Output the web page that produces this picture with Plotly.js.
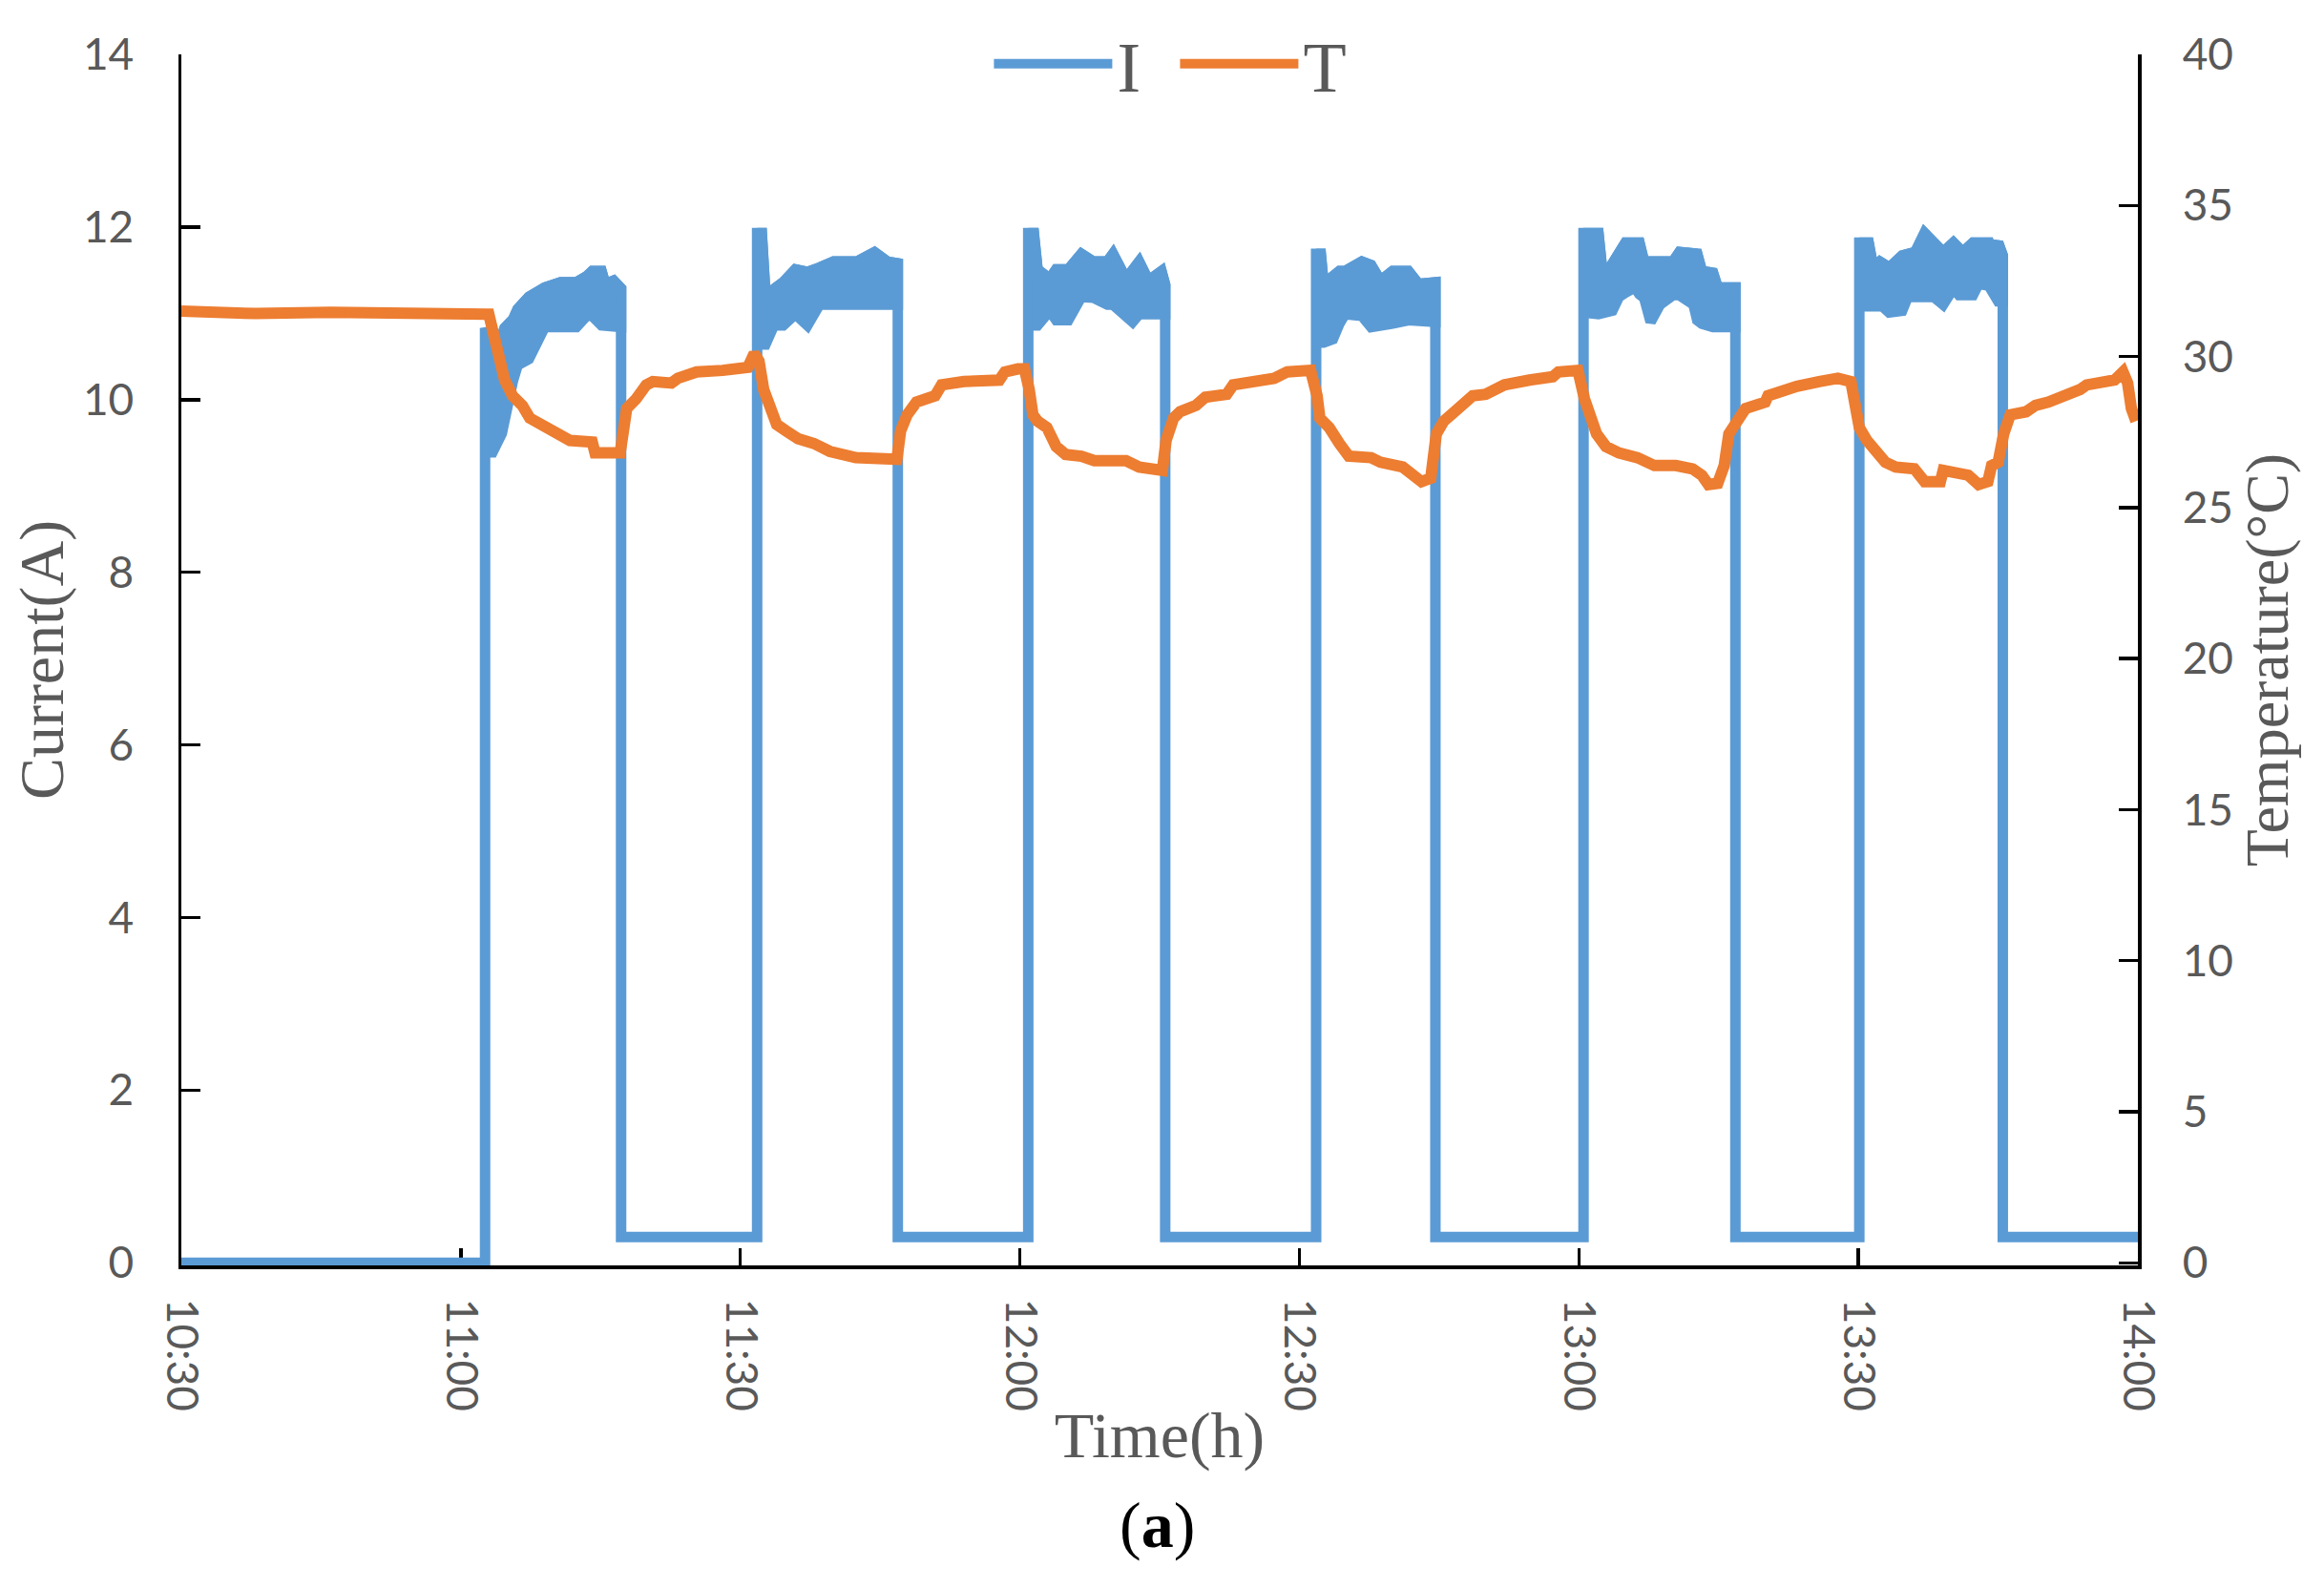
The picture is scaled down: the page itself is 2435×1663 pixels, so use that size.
<!DOCTYPE html>
<html><head><meta charset="utf-8">
<script src="https://cdn.plot.ly/plotly-3.0.1.min.js"></script>
<style>html,body{margin:0;padding:0;background:#fff}</style>
</head><body><div id="chart" style="width:2435px;height:1663px"></div>
<script>
// x values are minutes after 10:30
const xTickVals = [0, 30, 60, 90, 120, 150, 180, 210];
const xTickLabels = ["10:30", "11:00", "11:30", "12:00", "12:30", "13:00", "13:30", "14:00"];

// Current (A): level before the first run and between runs
const currentStart = 0;
const currentOff = 0.3;
const currentEndTime = 210;

// Current during each run: time, upper and lower edge of the noisy band
const run1_t  = [32.6, 33.4, 34.4, 34.7, 35.6, 36.1, 37.3, 39.0, 40.7, 42.4, 43.5, 44.1, 45.1, 45.5, 46.4, 47.2];
const run1_hi = [10.83, 10.57, 10.73, 10.83, 10.93, 11.05, 11.19, 11.30, 11.36, 11.36, 11.43, 11.49, 11.49, 11.34, 11.38, 11.29];
const run1_lo = [9.39, 9.39, 9.61, 9.77, 10.22, 10.40, 10.47, 10.84, 10.84, 10.84, 10.97, 10.97, 10.86, 10.86, 10.84, 10.84];

const run2_t  = [61.8, 62.3, 62.7, 63.6, 64.6, 65.9, 67.2, 68.5, 70.0, 72.5, 74.4, 75.8, 76.9];
const run2_hi = [11.93, 11.93, 11.21, 11.28, 11.36, 11.51, 11.48, 11.53, 11.60, 11.60, 11.71, 11.60, 11.58];
const run2_lo = [10.64, 10.64, 10.64, 10.86, 10.86, 10.99, 10.86, 11.10, 11.10, 11.10, 11.10, 11.10, 11.10];

const run3_t  = [90.9, 91.5, 91.9, 93.2, 93.9, 95.2, 96.6, 97.9, 99.4, 100.0, 101.4, 102.1, 102.8, 103.8, 105.2, 105.6];
const run3_hi = [11.93, 11.93, 11.51, 11.40, 11.51, 11.51, 11.69, 11.60, 11.60, 11.69, 11.40, 11.48, 11.60, 11.38, 11.49, 11.33];
const run3_lo = [10.86, 10.86, 10.86, 11.03, 10.92, 10.92, 11.19, 11.18, 11.10, 11.10, 10.97, 10.90, 10.99, 10.99, 10.99, 10.99];

const run4_t  = [121.8, 122.3, 122.6, 123.6, 124.3, 124.9, 126.7, 127.7, 128.7, 130.0, 131.7, 132.8, 134.6];
const run4_hi = [11.69, 11.69, 11.34, 11.43, 11.49, 11.49, 11.60, 11.56, 11.38, 11.49, 11.49, 11.34, 11.36];
const run4_lo = [10.66, 10.66, 10.66, 10.70, 10.88, 10.99, 10.97, 10.84, 10.84, 10.88, 10.92, 10.90, 10.90];

const run5_t  = [150.5, 152.1, 152.6, 153.6, 154.3, 155.0, 156.0, 156.5, 157.0, 157.7, 158.7, 160.1, 160.8, 161.4, 162.3, 162.7, 163.2, 164.4, 164.9, 166.8];
const run5_hi = [11.93, 11.93, 11.40, 11.58, 11.67, 11.82, 11.82, 11.82, 11.60, 11.60, 11.60, 11.60, 11.71, 11.71, 11.69, 11.69, 11.49, 11.47, 11.30, 11.30];
const run5_lo = [11.01, 10.99, 10.99, 11.03, 11.19, 11.24, 11.30, 11.22, 11.18, 10.90, 11.10, 11.21, 11.21, 11.19, 11.10, 10.92, 10.88, 10.84, 10.84, 10.84];

const run6_t  = [180.1, 181.1, 181.6, 182.3, 182.6, 183.3, 184.7, 185.3, 186.1, 187.1, 188.1, 189.1, 190.2, 190.8, 191.2, 192.3, 192.9, 194.0, 194.3, 195.0, 195.5];
const run6_hi = [11.82, 11.82, 11.53, 11.60, 11.58, 11.53, 11.67, 11.69, 11.71, 11.93, 11.82, 11.71, 11.82, 11.76, 11.71, 11.82, 11.82, 11.82, 11.71, 11.82, 11.67];
const run6_lo = [11.08, 11.08, 11.08, 11.08, 11.08, 11.01, 11.03, 11.19, 11.19, 11.19, 11.19, 11.10, 11.29, 11.21, 11.21, 11.21, 11.34, 11.32, 11.30, 11.14, 11.14];

// Temperature (°C)
const temp_t = [0, 8, 16, 24, 33.0, 33.8, 34.7, 35.55, 36.6, 37.4, 39.0, 40.3, 41.7, 44.1, 44.4, 47.1,
  47.3, 47.8, 48.8, 49.9, 50.6, 52.6, 53.3, 55.3, 58.1, 60.8, 61.5,
  62.0, 62.5, 63.2, 63.9, 64.9, 66.2, 67.9, 69.6, 72.4, 76.8,
  77.2, 77.9, 78.9, 80.9, 81.6, 84.0, 87.8, 88.4, 89.8, 90.5,
  91.0, 91.4, 91.9, 92.9, 93.9, 94.9, 96.6, 98.0, 101.4, 102.8, 105.3,
  105.7, 106.5, 107.2, 108.9, 109.9, 112.2, 112.9, 117.3, 118.7, 121.2,
  121.9, 122.2, 123.2, 124.3, 125.3, 127.7, 128.7, 131.1, 132.1, 133.1, 134.1,
  134.7, 135.5, 136.6, 137.6, 138.6, 140.0, 142.0, 144.7, 147.2, 147.8, 149.9,
  150.6, 151.2, 151.9, 152.9, 154.3, 156.3, 158.1, 160.4, 162.2, 163.2, 163.9, 164.9,
  165.6, 166.1, 166.9, 167.9, 170.0, 170.3, 173.4, 175.1, 175.8, 177.8, 179.2,
  179.6, 180.1, 180.9, 181.9, 182.9, 184.0, 186.0, 187.1, 188.8, 189.1, 190.8, 191.8, 192.9, 193.9, 194.3, 195.0,
  195.6, 196.3, 198.0, 199.0, 200.4, 202.4, 203.8, 204.5, 207.5, 208.4, 208.9, 209.3, 209.8];
const temp_v = [31.50, 31.42, 31.46, 31.42, 31.40, 30.38, 29.22, 28.70, 28.38, 27.96, 27.65, 27.44, 27.22, 27.17, 26.81, 26.81,
  27.44, 28.28, 28.59, 29.06, 29.17, 29.12, 29.28, 29.49, 29.54, 29.64, 30.10,
  29.85, 28.91, 28.28, 27.75, 27.54, 27.28, 27.12, 26.86, 26.65, 26.60,
  27.54, 28.07, 28.49, 28.70, 29.06, 29.17, 29.22, 29.49, 29.59, 29.59,
  28.91, 28.07, 27.86, 27.65, 27.02, 26.76, 26.70, 26.55, 26.55, 26.34, 26.23,
  27.23, 27.96, 28.17, 28.38, 28.65, 28.75, 29.06, 29.28, 29.49, 29.54,
  28.70, 27.96, 27.65, 27.12, 26.70, 26.65, 26.50, 26.34, 26.07, 25.86, 25.97,
  27.44, 27.86, 28.17, 28.54, 28.70, 28.75, 29.06, 29.22, 29.33, 29.49, 29.54,
  28.60, 28.07, 27.44, 27.02, 26.81, 26.65, 26.39, 26.39, 26.28, 26.07, 25.76, 25.80,
  26.39, 27.44, 27.86, 28.28, 28.49, 28.70, 29.01, 29.06, 29.17, 29.28, 29.17,
  28.49, 27.65, 27.23, 26.81, 26.50, 26.34, 26.28, 25.86, 25.86, 26.23, 26.18, 26.07, 25.76, 25.86, 26.39, 26.50,
  27.44, 28.07, 28.17, 28.38, 28.49, 28.70, 28.91, 29.06, 29.22, 29.49, 29.12, 28.28, 27.86];

const blue = "#5B9BD5", orange = "#ED7D31", grey = "#595959";
const runs = [[run1_t, run1_hi, run1_lo], [run2_t, run2_hi, run2_lo], [run3_t, run3_hi, run3_lo],
              [run4_t, run4_hi, run4_lo], [run5_t, run5_hi, run5_lo], [run6_t, run6_hi, run6_lo]];

// build the current square wave from the run arrays
const cx = [0], cy = [currentStart];
runs.forEach(function (r, k) {
  const t = r[0], hi = r[1];
  cx.push(t[0]); cy.push(k === 0 ? currentStart : currentOff);
  for (let i = 0; i < t.length; i++) { cx.push(t[i]); cy.push(hi[i]); }
  cx.push(t[t.length - 1]); cy.push(currentOff);
});
cx.push(currentEndTime); cy.push(currentOff);

const traces = [];
runs.forEach(function (r) {
  const t = r[0], hi = r[1], lo = r[2];
  traces.push({
    x: t.concat(t.slice().reverse()), y: hi.concat(lo.slice().reverse()),
    type: "scatter", mode: "lines", fill: "toself", fillcolor: blue,
    line: {color: blue, width: 11}, showlegend: false, hoverinfo: "skip", yaxis: "y"
  });
});
traces.push({x: cx, y: cy, name: "I", type: "scatter", mode: "lines",
  line: {color: blue, width: 11}, yaxis: "y"});
traces.push({x: temp_t, y: temp_v, name: "T", type: "scatter", mode: "lines",
  line: {color: orange, width: 12}, yaxis: "y2"});

const tickFont = {family: "Lato, 'Open Sans', sans-serif", size: 46, color: grey};
const serif = "'Liberation Serif', 'DejaVu Serif', serif";

const layout = {
  width: 2435, height: 1663,
  margin: {l: 190, r: 195, t: 55, b: 337, pad: 0},
  paper_bgcolor: "#fff", plot_bgcolor: "#fff",
  showlegend: true,
  legend: {orientation: "h", x: 0.508, xanchor: "center", y: 0.992, yanchor: "middle",
    itemwidth: 124, entrywidth: 56, entrywidthmode: "pixels",
    font: {family: serif, size: 74, color: grey},
    bgcolor: "rgba(0,0,0,0)", traceorder: "normal"},
  xaxis: {range: [0, 210], tickvals: xTickVals, ticktext: xTickLabels, tickangle: 90,
    ticks: "inside", ticklen: 18, tickwidth: 3.5, tickcolor: "#000",
    showline: true, linecolor: "#000", linewidth: 3.5, showgrid: false, zeroline: false,
    layer: "below traces", tickfont: tickFont, ticklabelstandoff: 22,
    title: {text: "Time(h)", font: {family: serif, size: 68, color: grey}, standoff: 2}},
  yaxis: {range: [-0.03, 14], tickvals: [0, 2, 4, 6, 8, 10, 12, 14],
    ticks: "inside", ticklen: 20, tickwidth: 3.5, tickcolor: "#000",
    showline: true, linecolor: "#000", linewidth: 3.5, showgrid: false, zeroline: false,
    layer: "below traces", tickfont: tickFont, ticklabelstandoff: 37,
    title: {text: "Current(A)", font: {family: serif, size: 66, color: grey}, standoff: 0}},
  yaxis2: {range: [-0.0857, 40], tickvals: [0, 5, 10, 15, 20, 25, 30, 35, 40],
    overlaying: "y", side: "right",
    ticks: "inside", ticklen: 20, tickwidth: 3.5, tickcolor: "#000",
    showline: true, linecolor: "#000", linewidth: 3.5, showgrid: false, zeroline: false,
    layer: "below traces", tickfont: tickFont, ticklabelstandoff: 34,
    title: {text: "Temperature(°C)", font: {family: serif, size: 64, color: grey}, standoff: 0}},
  annotations: [{text: "(<b>a</b>)", xref: "paper", yref: "paper", x: 0.499, y: -0.214,
    xanchor: "center", yanchor: "middle", showarrow: false,
    font: {family: serif, size: 68, color: "#000"}}]
};

Plotly.newPlot("chart", traces, layout, {displayModeBar: false, staticPlot: true});
</script>
</body></html>
